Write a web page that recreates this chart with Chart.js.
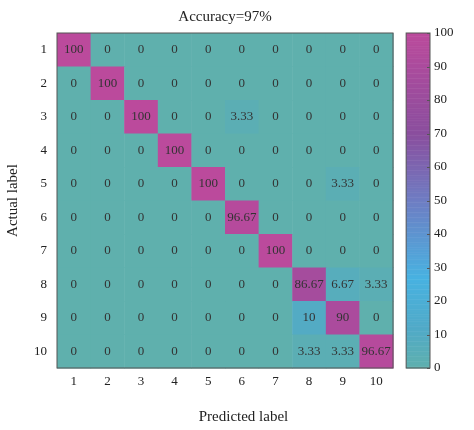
<!DOCTYPE html>
<html><head><meta charset="utf-8">
<script src="https://cdn.jsdelivr.net/npm/chart.js@4"></script>
<style>html,body{margin:0;background:#fff}#wrap{width:474px;height:430px}</style>
</head><body><div id="wrap"><canvas id="c"></canvas></div>
<script>
'use strict';

/* ── DATA ─────────────────────────── */
const labels = [1, 2, 3, 4, 5, 6, 7, 8, 9, 10];
// rows = actual label, cols = predicted label (percent)
const matrix = [
  [100, 0, 0, 0, 0, 0, 0, 0, 0, 0],
  [0, 100, 0, 0, 0, 0, 0, 0, 0, 0],
  [0, 0, 100, 0, 0, 3.33, 0, 0, 0, 0],
  [0, 0, 0, 100, 0, 0, 0, 0, 0, 0],
  [0, 0, 0, 0, 100, 0, 0, 0, 3.33, 0],
  [0, 0, 0, 0, 0, 96.67, 0, 0, 0, 0],
  [0, 0, 0, 0, 0, 0, 100, 0, 0, 0],
  [0, 0, 0, 0, 0, 0, 0, 86.67, 6.67, 3.33],
  [0, 0, 0, 0, 0, 0, 0, 10, 90, 0],
  [0, 0, 0, 0, 0, 0, 0, 3.33, 3.33, 96.67],
];
const cbTicks = [0, 10, 20, 30, 40, 50, 60, 70, 80, 90, 100];
const title = 'Accuracy=97%';

/* ── COLOUR MAP ─────────────────────────── */
const stops = [
  [0, [95, 176, 173]], [12, [80, 170, 200]], [27, [72, 178, 225]],
  [50, [110, 125, 195]], [70, [138, 78, 158]], [100, [187, 74, 156]],
];
function cmap(v) {
  for (let i = 1; i < stops.length; i++) {
    if (v <= stops[i][0]) {
      const [a, ca] = stops[i - 1], [b, cb] = stops[i];
      const t = (v - a) / (b - a);
      const c = ca.map((x, k) => Math.round(x + (cb[k] - x) * t));
      return `rgb(${c})`;
    }
  }
  return 'rgb(187,74,156)';
}
const fmt = v => (Number.isInteger(v) ? String(v) : v.toFixed(2));

const font = 'Liberation Serif';
const tc = '#222';

/* ── HEATMAP PLUGIN ─────────────────────────── */
const heatmap = {
  id: 'heatmap',
  beforeDatasetsDraw(chart) {
    const { ctx, scales: { x, y, cb } } = chart;
    ctx.save();
    matrix.forEach((row, r) => row.forEach((v, c) => {
      const x0 = x.getPixelForValue(c + 0.5), x1 = x.getPixelForValue(c + 1.5);
      const y0 = y.getPixelForValue(r + 0.5), y1 = y.getPixelForValue(r + 1.5);
      ctx.fillStyle = cmap(v);
      ctx.fillRect(x0, y0, x1 - x0 + 0.5, y1 - y0 + 0.5);
    }));
    ctx.font = `13px "${font}"`;
    ctx.fillStyle = '#333';
    ctx.textAlign = 'center';
    ctx.textBaseline = 'middle';
    matrix.forEach((row, r) => row.forEach((v, c) => {
      ctx.fillText(fmt(v), x.getPixelForValue(c + 1), y.getPixelForValue(r + 1));
    }));
    // matrix frame
    const L = x.getPixelForValue(0.5), R = x.getPixelForValue(10.5);
    const T = y.getPixelForValue(0.5), B = y.getPixelForValue(10.5);
    ctx.strokeStyle = '#555';
    ctx.lineWidth = 1;
    ctx.strokeRect(L, T, R - L, B - T);
    // colorbar
    const cL = x.getPixelForValue(10.89), cR = chart.chartArea.right;
    for (let v = 0; v < 100; v += 0.5) {
      const ya = cb.getPixelForValue(v + 0.5), yb = cb.getPixelForValue(v);
      ctx.fillStyle = cmap(v + 0.25);
      ctx.fillRect(cL, ya, cR - cL, yb - ya + 0.5);
    }
    ctx.strokeRect(cL, cb.top, cR - cL, cb.bottom - cb.top);
    ctx.beginPath();
    cbTicks.forEach(t => {
      const p = Math.round(cb.getPixelForValue(t)) + 0.5;
      ctx.moveTo(cR - 3, p); ctx.lineTo(cR, p);
    });
    ctx.stroke();
    // title
    ctx.fillStyle = tc;
    ctx.font = `15px "${font}"`;
    ctx.fillText(title, (L + R) / 2, 17);
    ctx.restore();
  },
};

new Chart(document.getElementById('c'), {
  type: 'scatter',
  data: { datasets: [{ data: [] }] },
  plugins: [heatmap],
  options: {
    responsive: true,
    maintainAspectRatio: false,
    animation: false,
    layout: { padding: { top: 33 } },
    plugins: { legend: { display: false }, tooltip: { enabled: false } },
    scales: {
      x: {
        type: 'linear', min: 0.5, max: 11.6,
        afterBuildTicks: s => { s.ticks = labels.map(v => ({ value: v })); },
        afterFit: s => { s.height = 62; },
        grid: { display: false, drawTicks: false },
        border: { display: false },
        ticks: { color: tc, font: { family: font, size: 13 }, padding: 6, maxRotation: 0 },
        title: { display: true, text: 'Predicted label', color: tc, font: { family: font, size: 15 }, padding: { top: 12 } },
      },
      y: {
        type: 'linear', min: 0.5, max: 10.5, reverse: true,
        afterBuildTicks: s => { s.ticks = labels.map(v => ({ value: v })); },
        afterFit: s => { s.width = 57; },
        grid: { display: false, drawTicks: false },
        border: { display: false },
        ticks: { color: tc, font: { family: font, size: 13 }, padding: 10 },
        title: { display: true, text: 'Actual label', color: tc, font: { family: font, size: 15 }, padding: { bottom: 4 } },
      },
      cb: {
        type: 'linear', position: 'right', min: 0, max: 100,
        afterBuildTicks: s => { s.ticks = cbTicks.map(v => ({ value: v })); },
        afterFit: s => { s.width = 44; },
        grid: { display: false, drawTicks: false },
        border: { display: false },
        ticks: { color: tc, font: { family: font, size: 13 }, padding: 4 },
      },
    },
  },
});
</script></body></html>
